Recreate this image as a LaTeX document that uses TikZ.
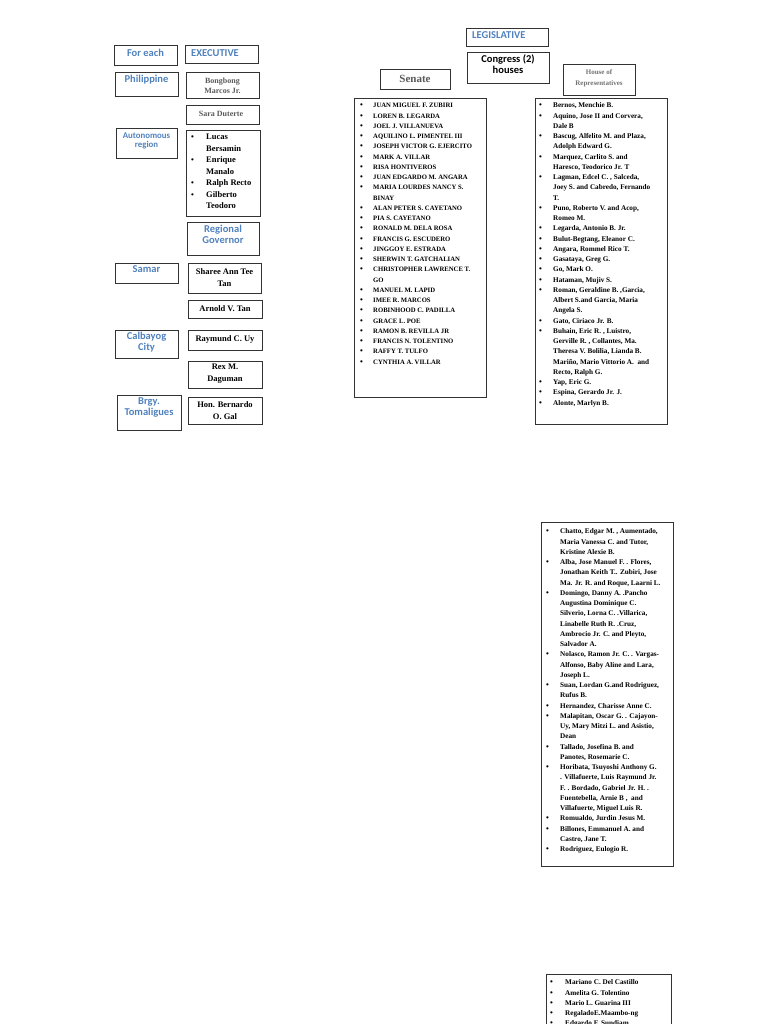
\documentclass[tikz,border=0pt]{standalone}
\usepackage{fontspec}
\setmainfont{Liberation Serif}
\newfontfamily\calfont{Carlito}
\definecolor{myblue}{HTML}{4F81BD}
\definecolor{mygray}{HTML}{595959}
\definecolor{boxgray}{HTML}{333333}
\newcommand\bu{{\fontsize{8}{0}\selectfont\textbullet}}
\tikzset{
  bx/.style={draw=boxgray, line width=0.9pt, anchor=north west, inner sep=0pt},
  bluet/.style={font=\calfont\bfseries\fontsize{10.5}{11}\selectfont, text=myblue, align=center, inner sep=0pt},
  bluesm/.style={font=\calfont\bfseries\fontsize{8.8}{9}\selectfont, text=myblue, align=center, inner sep=0pt},
  nm/.style={font=\bfseries\fontsize{8.5}{12}\selectfont, align=center, inner sep=0pt},
  grt/.style={font=\bfseries\fontsize{8}{10}\selectfont, text=mygray, align=center, inner sep=0pt},
  lst/.style={anchor=north west, inner sep=0pt, font=\bfseries\fontsize{7.2}{10.25}\selectfont},
  lstcap/.style={anchor=north west, inner sep=0pt, font=\bfseries\fontsize{6.7}{10.25}\selectfont},
}
\newcommand\bxx[5]{\node[bx, minimum width=#3-#1, minimum height=#4-#2] (#5) at (#1,#2) {};}
\begin{document}
\begin{tikzpicture}[x=1pt,y=-1pt]
\useasboundingbox (0,0) rectangle (768,1024);
% ---------- left column boxes
\bxx{114}{45}{177}{65}{bfor}
\bxx{185}{45}{258}{63}{bexec}
\bxx{115}{72}{178}{96}{bphil}
\bxx{186}{72}{259}{98}{bbong}
\bxx{186}{105}{259}{124}{bsara}
\bxx{116}{128}{177}{158}{bauto}
\bxx{186}{130}{260}{216}{bcab}
\bxx{187}{222}{259}{255}{breg}
\bxx{115}{263}{178}{283}{bsamar}
\bxx{188}{263}{261}{293}{bsharee}
\bxx{188}{300}{262}{318}{barnold}
\bxx{115}{330}{178}{358}{bcal}
\bxx{188}{330}{262}{350}{braym}
\bxx{188}{361}{262}{388}{brex}
\bxx{117}{395}{181}{430}{bbrgy}
\bxx{188}{397}{262}{424}{bhon}
% texts
\node[bluet] (tfor) at (145.5,53) {For each};
\node[bluet, anchor=west] (texec) at (191,53) {EXECUTIVE};
\node[bluet] (tphil) at (146.5,79.5) {Philippine};
\node[grt] (tbong) at (222.5,85.5) {Bongbong\\Marcos Jr.};
\node[grt] (tsara) at (221,114) {Sara Duterte};
\node[bluesm] (tauto) at (146.5,140.5) {Autonomous\\region};
\node[lst, font=\bfseries\fontsize{8.5}{11.5}\selectfont] (tcab) at (191,131.5) {%
\begin{tabular}{@{}p{15pt}@{}l@{}}
\bu & Lucas\\ & Bersamin\\
\bu & Enrique\\ & Manalo\\
\bu & Ralph Recto\\
\bu & Gilberto\\ & Teodoro
\end{tabular}};
\node[bluet] (treg) at (223,234.5) {Regional\\Governor};
\node[bluet] (tsamar) at (146.5,269.5) {Samar};
\node[nm] (tsharee) at (224.5,277.5) {Sharee Ann Tee\\Tan};
\node[nm] (tarnold) at (225,309) {Arnold V. Tan};
\node[bluet] (tcal) at (146.5,342.5) {Calbayog\\City};
\node[nm] (traym) at (225,339.5) {Raymund C. Uy};
\node[nm] (trex) at (225,374) {Rex M.\\Daguman};
\node[bluet] (tbrgy) at (149,407.5) {Brgy.\\Tomaligues};
\node[nm] (thon) at (225,411) {Hon. Bernardo\\O. Gal};
% ---------- right side headers
\bxx{466}{28}{548}{46}{bleg}
\bxx{467}{52}{549}{83}{bcong}
\bxx{380}{69}{450}{89}{bsen}
\bxx{563}{64}{635}{95}{bhouse}
\node[bluet, anchor=west] (tleg) at (472,35) {LEGISLATIVE};
\node[font=\calfont\bfseries\fontsize{10.5}{11}\selectfont, align=center, inner sep=0pt] (tcong) at (508,64.5) {Congress (2)\\houses};
\node[font=\bfseries\fontsize{11}{11}\selectfont, text=mygray, inner sep=0pt] (tsen) at (415,79) {Senate};
\node[font=\bfseries\fontsize{7}{11}\selectfont, text=mygray!85, align=center, inner sep=0pt] (thouse) at (599,78) {House of\\Representatives};
% ---------- senate list
\bxx{354}{98}{486}{397}{bsenl}
\node[lstcap] (tsenl) at (360,100.5) {%
\begin{tabular}{@{}p{13pt}@{}l@{}}
\bu & JUAN MIGUEL F. ZUBIRI\\
\bu & LOREN B. LEGARDA\\
\bu & JOEL J. VILLANUEVA\\
\bu & AQUILINO L. PIMENTEL III\\
\bu & JOSEPH VICTOR G. EJERCITO\\
\bu & MARK A. VILLAR\\
\bu & RISA HONTIVEROS\\
\bu & JUAN EDGARDO M. ANGARA\\
\bu & MARIA LOURDES NANCY S.\\
 & BINAY\\
\bu & ALAN PETER S. CAYETANO\\
\bu & PIA S. CAYETANO\\
\bu & RONALD M. DELA ROSA\\
\bu & FRANCIS G. ESCUDERO\\
\bu & JINGGOY E. ESTRADA\\
\bu & SHERWIN T. GATCHALIAN\\
\bu & CHRISTOPHER LAWRENCE T.\\
 & GO\\
\bu & MANUEL M. LAPID\\
\bu & IMEE R. MARCOS\\
\bu & ROBINHOOD C. PADILLA\\
\bu & GRACE L. POE\\
\bu & RAMON B. REVILLA JR\\
\bu & FRANCIS N. TOLENTINO\\
\bu & RAFFY T. TULFO\\
\bu & CYNTHIA A. VILLAR
\end{tabular}};
% ---------- house list 1
\bxx{535}{98}{667}{424}{bh1}
\node[lst] (th1) at (539,100.5) {%
\begin{tabular}{@{}p{14pt}@{}l@{}}
\bu & Bernos, Menchie B.\\
\bu & Aquino, Jose II and Corvera,\\
 & Dale B\\
\bu & Bascug, Alfelito M. and Plaza,\\
 & Adolph Edward G.\\
\bu & Marquez, Carlito S. and\\
 & Haresco, Teodorico Jr. T\\
\bu & Lagman, Edcel C. , Salceda,\\
 & Joey S. and Cabredo, Fernando\\
 & T.\\
\bu & Puno, Roberto V. and Acop,\\
 & Romeo M.\\
\bu & Legarda, Antonio B. Jr.\\
\bu & Bulut-Begtang, Eleanor C.\\
\bu & Angara, Rommel Rico T.\\
\bu & Gasataya, Greg G.\\
\bu & Go, Mark O.\\
\bu & Hataman, Mujiv S.\\
\bu & Roman, Geraldine B. ,Garcia,\\
 & Albert S.and Garcia, Maria\\
 & Angela S.\\
\bu & Gato, Ciriaco Jr. B.\\
\bu & Buhain, Eric R. , Luistro,\\
 & Gerville R. , Collantes, Ma.\\
 & Theresa V. Bolilia, Lianda B.\\
 & Mariño, Mario Vittorio A.\ \ and\\
 & Recto, Ralph G.\\
\bu & Yap, Eric G.\\
\bu & Espina, Gerardo Jr. J.\\
\bu & Alonte, Marlyn B.
\end{tabular}};
% ---------- house list 2
\bxx{541}{522}{673}{866}{bh2}
\node[lst] (th2) at (546,526.5) {%
\begin{tabular}{@{}p{14pt}@{}l@{}}
\bu & Chatto, Edgar M. , Aumentado,\\
 & Maria Vanessa C. and Tutor,\\
 & Kristine Alexie B.\\
\bu & Alba, Jose Manuel F. . Flores,\\
 & Jonathan Keith T.. Zubiri, Jose\\
 & Ma. Jr. R. and Roque, Laarni L.\\
\bu & Domingo, Danny A. .Pancho\\
 & Augustina Dominique C.\\
 & Silverio, Lorna C. .Villarica,\\
 & Linabelle Ruth R. .Cruz,\\
 & Ambrocio Jr. C. and Pleyto,\\
 & Salvador A.\\
\bu & Nolasco, Ramon Jr. C. . Vargas-\\
 & Alfonso, Baby Aline and Lara,\\
 & Joseph L.\\
\bu & Suan, Lordan G.and Rodriguez,\\
 & Rufus B.\\
\bu & Hernandez, Charisse Anne C.\\
\bu & Malapitan, Oscar G. . Cajayon-\\
 & Uy, Mary Mitzi L. and Asistio,\\
 & Dean\\
\bu & Tallado, Josefina B. and\\
 & Panotes, Rosemarie C.\\
\bu & Horibata, Tsuyoshi Anthony G.\\
 & . Villafuerte, Luis Raymund Jr.\\
 & F. . Bordado, Gabriel Jr. H. .\\
 & Fuentebella, Arnie B ,\ \ and\\
 & Villafuerte, Miguel Luis R.\\
\bu & Romualdo, Jurdin Jesus M.\\
\bu & Billones, Emmanuel A. and\\
 & Castro, Jane T.\\
\bu & Rodriguez, Eulogio R.
\end{tabular}};
% ---------- bottom list
\bxx{546}{974}{671}{1040}{bh3}
\node[lst] (th3) at (550,977.5) {%
\begin{tabular}{@{}p{15pt}@{}l@{}}
\bu & Mariano C. Del Castillo\\
\bu & Amelita G. Tolentino\\
\bu & Mario L. Guarina III\\
\bu & RegaladoE.Maambo-ng\\
\bu & Edgardo F. Sundiam
\end{tabular}};
\end{tikzpicture}
\end{document}
